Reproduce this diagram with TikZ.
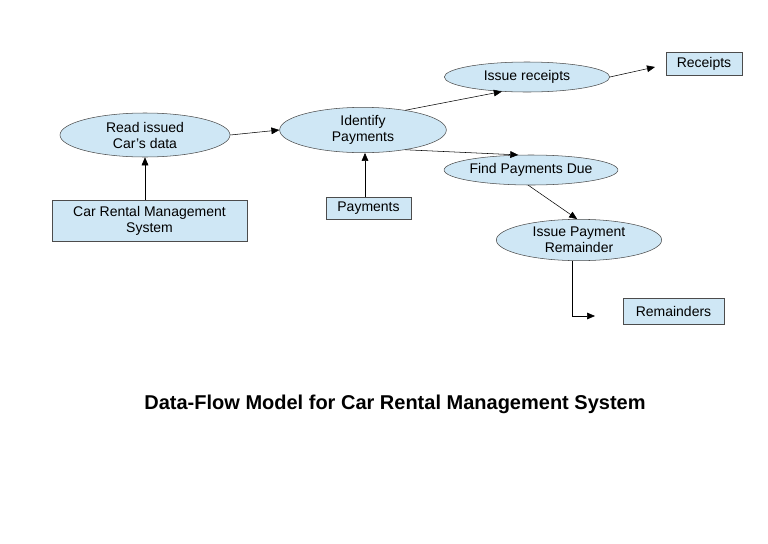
\documentclass[tikz,border=0pt]{standalone}
\usepackage{fontspec}
\setmainfont{Liberation Sans}
\usetikzlibrary{shapes.geometric,arrows.meta}
\definecolor{procfill}{RGB}{207,231,245}
\tikzset{
  proc/.style={ellipse,draw=black!70,fill=procfill,inner sep=0pt,align=center,font=\fontsize{10.5}{12}\selectfont},
  store/.style={rectangle,draw=black!70,fill=procfill,inner sep=0pt,align=center,font=\fontsize{10.5}{12}\selectfont},
  flow/.style={-{Triangle[length=6pt,width=5pt]},black}
}
\begin{document}
\begin{tikzpicture}[x=0.75pt,y=0.75pt,yscale=-1,xscale=1]
\useasboundingbox (0,0) rectangle (768,543);

% processes
\node[proc,minimum width=127.5pt,minimum height=33pt] (read) at (145,135) {Read issued\\Car's data};
\node[proc,minimum width=125pt,minimum height=34pt] (ident) at (363,130) {Identify\\Payments};
\node[proc,minimum width=124pt,minimum height=22.5pt] (rcpt) at (527,77) {Issue receipts};
\node[proc,minimum width=126pt,minimum height=22.5pt] (due) at (531,170) {Find Payments Due};
\node[proc,minimum width=124pt,minimum height=31pt] (remind) at (579,240) {Issue Payment\\Remainder};

% stores
\node[store,minimum width=146pt,minimum height=31pt] (crms) at (149.5,220.5) {Car Rental Management\\System};
\node[store,minimum width=64pt,minimum height=16.5pt] (pay) at (368.5,208) {Payments};
\node[store,minimum width=57pt,minimum height=17pt] (recs) at (704,63.5) {Receipts};
\node[store,minimum width=76pt,minimum height=19.5pt] (rems) at (673.5,311) {Remainders};

% free ends
\coordinate (rcptend) at (655,67);
\coordinate (remend) at (595,316);

% flows
\draw[flow] (crms.north -| read) -- (read.south);
\draw[flow] (read.east) -- (ident.west);
\draw[flow] (pay.north -| 365,0) -- (ident.south -| 365,0);
\draw[flow] (ident.25) -- (rcpt.-150);
\draw[flow] (rcpt.east) -- (rcptend);
\draw[flow] (ident.-25) -- (due.130);
\draw[flow] (due.-100) -- (remind.95);
\draw[flow] (remind.-108) |- (remend);

% title
\node[font=\bfseries\fontsize{15}{18}\selectfont] (title) at (395,404) {Data-Flow Model for Car Rental Management System};
\end{tikzpicture}
\end{document}
